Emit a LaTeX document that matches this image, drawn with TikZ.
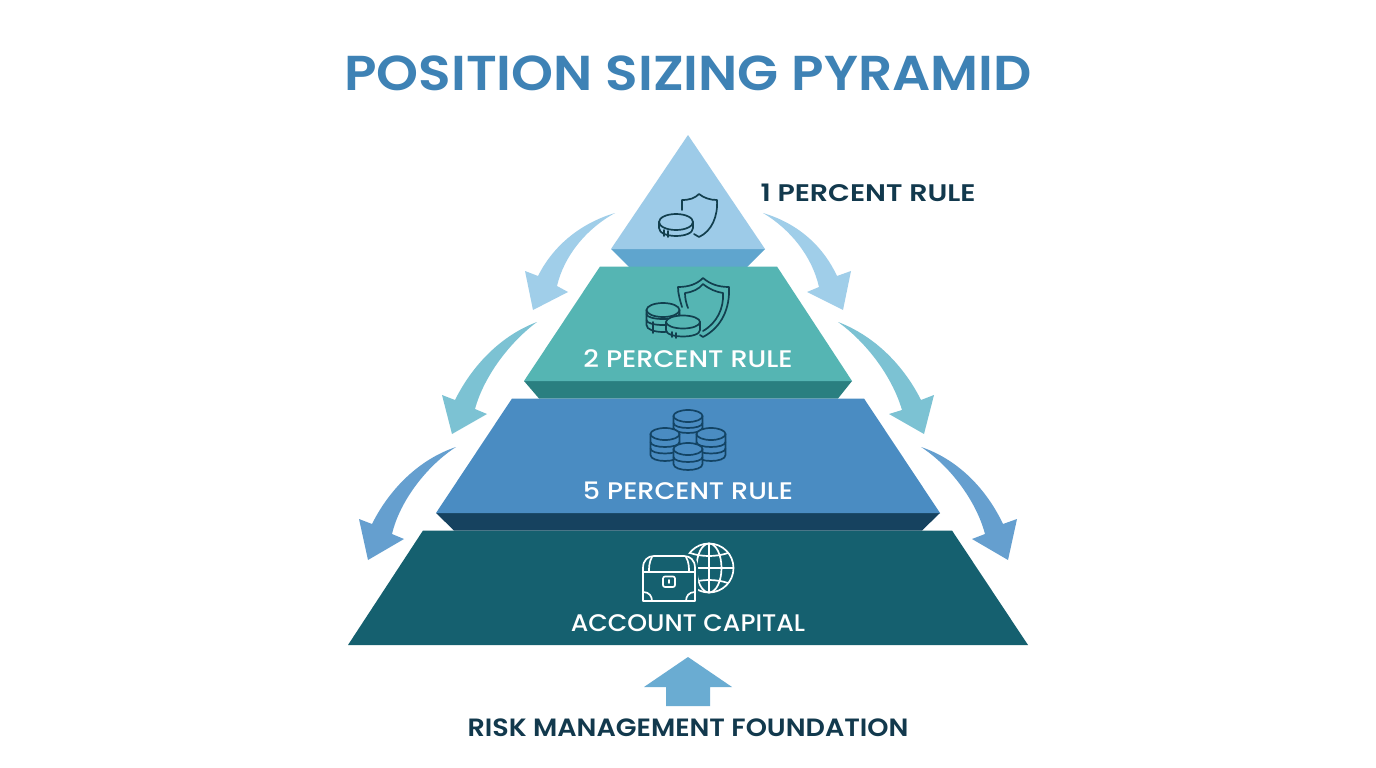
\documentclass[tikz,border=0pt]{standalone}
\usepackage{graphicx}
\usepackage{fontspec}
\setmainfont{Poppins}
\newfontfamily\medfont{Poppins Medium}
\newfontfamily\semifont{Poppins SemiBold}
\definecolor{titleblue}{HTML}{3E82B5}
\definecolor{inkdark}{HTML}{12394D}
\definecolor{triface}{HTML}{9DCBE8}
\definecolor{triband}{HTML}{5FA5CE}
\definecolor{tealface}{HTML}{55B5B3}
\definecolor{tealband}{HTML}{2A7F80}
\definecolor{blueface}{HTML}{4A8CC2}
\definecolor{blueband}{HTML}{16425F}
\definecolor{baseface}{HTML}{15606F}
\definecolor{arrowa}{HTML}{A0CEE9}
\definecolor{arrowb}{HTML}{7CC2D3}
\definecolor{arrowc}{HTML}{659FCF}
\definecolor{arrowup}{HTML}{6AACD2}
\definecolor{iconteal}{HTML}{123F4E}
\definecolor{iconblue}{HTML}{134465}
\tikzset{
  onface/.style={font=\medfont\fontsize{24}{28}\selectfont,text=white,inner sep=0pt,anchor=center},
  iconline/.style={line width=1.7pt,line join=round,line cap=round}
}
% #1 cx, #2 centre y of the top ellipse, #3 rx, #4 ry, #5 body height, #6 fill, #7 ink
\newcommand{\drum}[7]{%
  \draw[iconline,#7,fill=#6] (#1-#3,#2) -- (#1-#3,#2+#5) .. controls (#1-#3,#2+#5+#4*1.33) and (#1+#3,#2+#5+#4*1.33) .. (#1+#3,#2+#5) -- (#1+#3,#2) -- cycle;
  \draw[iconline,#7,fill=#6] (#1,#2) ellipse[x radius=#3,y radius=#4];
}
% a lower rim across a drum: #1 cx, #2 y, #3 rx, #4 ry, #5 ink
\newcommand{\rim}[5]{%
  \draw[iconline,#5] (#1-#3,#2) .. controls (#1-#3,#2+#4*1.33) and (#1+#3,#2+#4*1.33) .. (#1+#3,#2);
}
\begin{document}
\begin{tikzpicture}[x=1pt,y=-1pt]
\useasboundingbox (0,0) rectangle (1376,768);
\fill[white] (0,0) rectangle (1376,768);

\node[font=\semifont\fontsize{49}{56}\selectfont,text=titleblue,inner sep=0pt] (title) at (688,73) {\scalebox{1.09}[1]{POSITION SIZING PYRAMID}};

% pyramid tiers
\fill[triband] (611,249) -- (765,249) -- (747,267) -- (629,267) -- cycle;
\fill[triface] (688,135) -- (765,249) -- (611,249) -- cycle;
\fill[tealband] (524,381) -- (852,381) -- (838,398.5) -- (539,398.5) -- cycle;
\fill[tealface] (600,266.5) -- (777,266.5) -- (852,381) -- (524,381) -- cycle;
\fill[blueband] (436,513) -- (940,513) -- (922,530.5) -- (454,530.5) -- cycle;
\fill[blueface] (512,398.5) -- (864,398.5) -- (940,513) -- (436,513) -- cycle;
\fill[baseface] (423,530.5) -- (952,530.5) -- (1028,645) -- (348,645) -- cycle;

% left arrows
\fill[arrowa] (615,213) .. controls (578,224) and (552,248) .. (538,276) -- (525,271) -- (533,310) -- (568,292) -- (557,286) .. controls (564,256) and (586,229) .. (615,213) -- cycle;
\fill[arrowb] (537,322) .. controls (500,336) and (472,366) .. (455,400) -- (442,395) -- (452,434) -- (487,414) -- (475,409) .. controls (484,376) and (510,342) .. (537,322) -- cycle;
\fill[arrowc] (456,447) .. controls (420,459) and (390,488) .. (372,524) -- (359,519) -- (368,560) -- (404,539) -- (392,534) .. controls (400,500) and (428,465) .. (456,447) -- cycle;
% right arrows
\fill[arrowa] (763,213) .. controls (800,224) and (824,248) .. (837,276) -- (851,271) -- (843,310) -- (807,292) -- (819,287) .. controls (812,256) and (790,229) .. (763,213) -- cycle;
\fill[arrowb] (838,322) .. controls (875,336) and (904,366) .. (921,400) -- (934,395) -- (924,434) -- (889,414) -- (902,410) .. controls (892,376) and (866,342) .. (838,322) -- cycle;
\fill[arrowc] (921,447) .. controls (957,459) and (986,488) .. (1003,524) -- (1017,519) -- (1008,560) -- (972,539) -- (985,534) .. controls (976,500) and (949,465) .. (921,447) -- cycle;

% bottom arrow
\fill[arrowup] (688,657) -- (732,687) -- (710,687) -- (710,706) -- (666,706) -- (666,687) -- (644,687) -- cycle;

% labels
\node[font=\semifont\fontsize{24}{28}\selectfont,text=inkdark,inner sep=0pt] (l1) at (868,193) {\scalebox{1.185}[1]{1 PERCENT RULE}};
\node[onface] (l2) at (688,359) {\scalebox{1.13}[1]{2 PERCENT RULE}};
\node[onface] (l5) at (688,491) {\scalebox{1.125}[1]{5 PERCENT RULE}};
\node[onface] (lc) at (688,623) {\scalebox{1.05}[1]{ACCOUNT CAPITAL}};
\node[font=\semifont\fontsize{25}{28}\selectfont,text=inkdark,inner sep=0pt] (lf) at (688,728) {\scalebox{1.08}[1]{RISK MANAGEMENT FOUNDATION}};

% icon: tier 1
\draw[iconline,iconteal] (682,210) -- (682,200) .. controls (690,200) and (695,198) .. (699,194) .. controls (704,198) and (710,200) .. (717,200) .. controls (718,216) and (712,231) .. (699,237) -- (694,234);
\drum{676}{222}{17}{8}{6}{triface}{iconteal}
\draw[iconline,iconteal] (664,230) -- (664,236) (668,231) -- (668,237);

% icon: tier 2
\draw[iconline,iconteal] (682,307) .. controls (680,300) and (678,294) .. (678,287) .. controls (689,287) and (697,284) .. (703,278) .. controls (710,284) and (718,287) .. (729,287) .. controls (730,308) and (722,327) .. (703,337) -- (700,335);
\draw[iconline,iconteal] (688,308) .. controls (686,303) and (685,298) .. (685,293) .. controls (693,292) and (699,289) .. (703,284) .. controls (709,289) and (716,292) .. (723,293) .. controls (724,308) and (717,323) .. (703,331);
\drum{663}{310}{16.5}{7}{15}{tealface}{iconteal}
\rim{663}{314}{16.5}{5}{iconteal}
\rim{663}{320}{16.5}{5}{iconteal}
\draw[iconline,iconteal] (653,322) -- (653,333);
\drum{683}{322}{17}{6.5}{8}{tealface}{iconteal}
\draw[iconline,iconteal] (672,332) -- (672,337) (676,333) -- (676,338);

% icon: tier 3
\drum{688}{416}{14.5}{6}{24}{blueface}{iconblue}
\rim{688}{423}{14.5}{5}{iconblue}
\rim{688}{428}{14.5}{5}{iconblue}
\drum{665}{434}{14.5}{6}{21}{blueface}{iconblue}
\rim{665}{442}{14.5}{5}{iconblue}
\rim{665}{448.5}{14.5}{5}{iconblue}
\drum{711}{434}{14.5}{6}{21}{blueface}{iconblue}
\rim{711}{442}{14.5}{5}{iconblue}
\rim{711}{448.5}{14.5}{5}{iconblue}
\drum{688}{449}{14.5}{6}{15}{blueface}{iconblue}
\rim{688}{457}{14.5}{5}{iconblue}

% icon: base
\draw[iconline,white] (709,568) circle[radius=24.5];
\draw[iconline,white] (709,543.5) -- (709,592.5);
\draw[iconline,white] (709,568) ellipse[x radius=12.5,y radius=24.5];
\draw[iconline,white] (690,553) .. controls (702,557) and (716,557) .. (728,553);
\draw[iconline,white] (685,568) -- (733,568);
\draw[iconline,white] (690,583) .. controls (702,579) and (716,579) .. (728,583);
\draw[line width=6pt,baseface,fill=baseface,line join=round] (643,601) -- (643,568) .. controls (643,560) and (648,556) .. (654,556) -- (684,556) .. controls (690,556) and (695,560) .. (695,568) -- (695,601) -- cycle;
\draw[iconline,white] (643,601) -- (643,568) .. controls (643,560) and (648,556) .. (654,556) -- (684,556) .. controls (690,556) and (695,560) .. (695,568) -- (695,601) -- cycle;
\draw[iconline,white] (643,572) -- (695,572) (652,557) .. controls (649,562) and (649,568) .. (649,572) (686,557) .. controls (689,562) and (689,568) .. (689,572);
\draw[iconline,white,rounded corners=2pt] (663,576.5) rectangle (675,587);
\draw[iconline,white] (669,580) -- (669,583) (643,592) .. controls (649,592) and (652,596) .. (652,601) (695,592) .. controls (689,592) and (686,596) .. (686,601);
\end{tikzpicture}
\end{document}
